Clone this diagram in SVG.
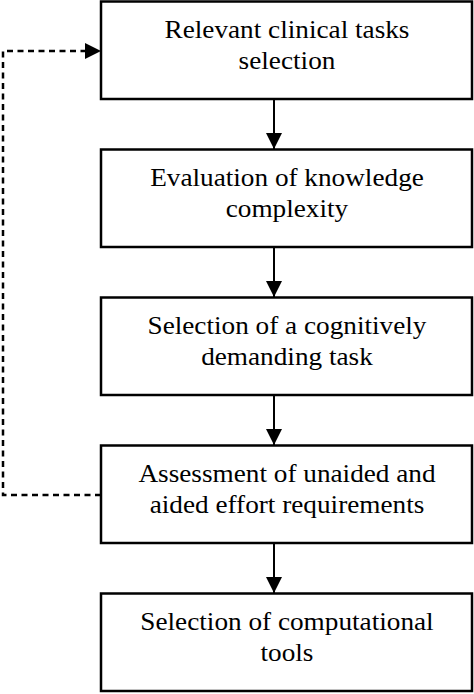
<svg xmlns="http://www.w3.org/2000/svg" width="474" height="694" viewBox="0 0 474 694">
<defs>
<style>
.box{fill:#fff;stroke:#000;stroke-width:2.5}
.t{font-family:"Liberation Serif","Times New Roman",serif;font-size:25px;fill:#000;text-anchor:middle}
.c{stroke:#000;stroke-width:2;fill:none}
.d{stroke:#000;stroke-width:2.5;fill:none;stroke-dasharray:6,4.5}
</style>
<marker id="ah" viewBox="0 0 16 16" markerWidth="16" markerHeight="16" refX="16" refY="8" orient="auto" markerUnits="userSpaceOnUse">
<path d="M0,0 L16,8 L0,16 Z" fill="#000"/>
</marker>
</defs>
<rect width="474" height="694" fill="#fff"/>
<g id="connectors">
<line class="c" x1="274" y1="99" x2="274" y2="149" marker-end="url(#ah)"/>
<line class="c" x1="274" y1="247" x2="274" y2="297" marker-end="url(#ah)"/>
<line class="c" x1="274" y1="395" x2="274" y2="445" marker-end="url(#ah)"/>
<line class="c" x1="274" y1="543" x2="274" y2="593" marker-end="url(#ah)"/>
<path class="d" d="M101,495 H3 V51 H88"/>
<path d="M85,43 L101,51 L85,59 Z" fill="#000"/>
</g>
<g id="n1">
<rect class="box" x="101" y="1.5" width="371" height="97.5"/>
<g transform="translate(287,0) scale(1.09,1) translate(-287,0)">
<text class="t" x="287" y="38">Relevant clinical tasks</text>
<text class="t" x="287" y="69">selection</text>
</g>
</g>
<g id="n2">
<rect class="box" x="101" y="149.5" width="371" height="97.5"/>
<g transform="translate(287,0) scale(1.09,1) translate(-287,0)">
<text class="t" x="287" y="186">Evaluation of knowledge</text>
<text class="t" x="287" y="217">complexity</text>
</g>
</g>
<g id="n3">
<rect class="box" x="101" y="297.5" width="371" height="97.5"/>
<g transform="translate(287,0) scale(1.09,1) translate(-287,0)">
<text class="t" x="287" y="334">Selection of a cognitively</text>
<text class="t" x="287" y="365">demanding task</text>
</g>
</g>
<g id="n4">
<rect class="box" x="101" y="445.5" width="371" height="97.5"/>
<g transform="translate(287,0) scale(1.09,1) translate(-287,0)">
<text class="t" x="287" y="482">Assessment of unaided and</text>
<text class="t" x="287" y="513">aided effort requirements</text>
</g>
</g>
<g id="n5">
<rect class="box" x="101" y="593.5" width="371" height="97.5"/>
<g transform="translate(287,0) scale(1.09,1) translate(-287,0)">
<text class="t" x="287" y="630">Selection of computational</text>
<text class="t" x="287" y="661">tools</text>
</g>
</g>
</svg>
